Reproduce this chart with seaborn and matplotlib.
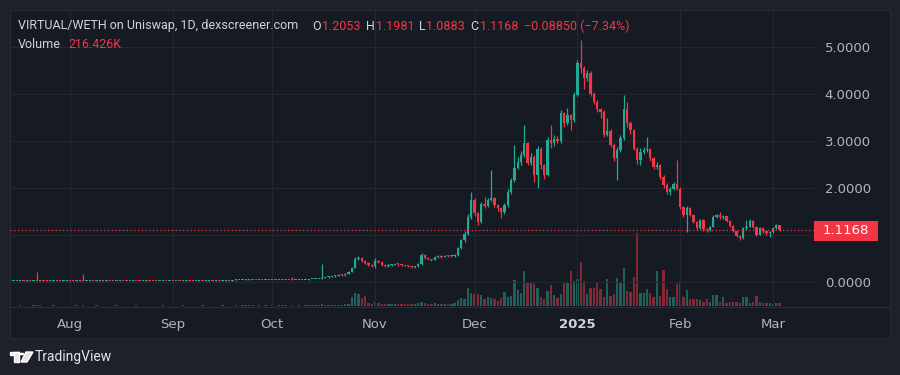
import numpy as np
import pandas as pd
import matplotlib
matplotlib.use("Agg")
import matplotlib.pyplot as plt
import matplotlib.dates as mdates
from matplotlib.patches import Rectangle, Polygon, Circle
from matplotlib.lines import Line2D
import seaborn as sns

start_date = "2024-07-15"
end_date = "2025-03-03"
first_open = 0.022

# daily closes, one row per month (Jul 15 .. Mar 3)
close = [
    0.024, 0.028, 0.030, 0.029, 0.031, 0.030, 0.032, 0.030, 0.031, 0.030, 0.029, 0.030, 0.031, 0.030, 0.029, 0.030, 0.031,
    0.030, 0.029, 0.031, 0.030, 0.028, 0.029, 0.030, 0.029, 0.030, 0.031, 0.029, 0.030, 0.029, 0.028, 0.029, 0.030, 0.029, 0.028, 0.029, 0.030, 0.029, 0.028, 0.029, 0.030, 0.029, 0.028, 0.027, 0.028, 0.029, 0.028, 0.029,
    0.028, 0.029, 0.028, 0.029, 0.030, 0.029, 0.028, 0.029, 0.030, 0.029, 0.030, 0.031, 0.030, 0.031, 0.030, 0.031, 0.032, 0.031, 0.032, 0.033, 0.034, 0.035, 0.045, 0.050, 0.048, 0.047, 0.048, 0.046, 0.047, 0.048,
    0.049, 0.047, 0.048, 0.050, 0.049, 0.048, 0.046, 0.047, 0.048, 0.049, 0.050, 0.055, 0.060, 0.065, 0.070, 0.090, 0.100, 0.110, 0.120, 0.130, 0.150, 0.140, 0.180, 0.220, 0.300, 0.500, 0.520, 0.440, 0.400, 0.360, 0.330,
    0.45, 0.42, 0.37, 0.33, 0.36, 0.37, 0.39, 0.38, 0.36, 0.35, 0.33, 0.31, 0.33, 0.38, 0.57, 0.52, 0.48, 0.47, 0.53, 0.55, 0.54, 0.56, 0.55, 0.56, 0.57, 0.72, 0.89, 1.03, 1.39, 1.74,
    1.46, 1.28, 1.67, 1.62, 1.75, 1.78, 1.64, 1.58, 1.48, 1.64, 1.92, 2.17, 2.42, 2.55, 2.70, 2.95, 2.53, 2.66, 2.27, 2.84, 2.49, 2.27, 3.02, 2.95, 3.05, 3.00, 3.59, 3.38, 3.55, 3.45, 3.98,
    4.65, 4.55, 4.33, 4.44, 4.01, 3.84, 3.69, 3.62, 3.13, 3.22, 2.91, 2.63, 2.80, 3.06, 3.69, 3.38, 3.23, 2.84, 2.59, 2.77, 2.80, 2.83, 2.63, 2.45, 2.50, 2.24, 2.06, 1.92, 1.98, 2.08, 1.98,
    1.60, 1.42, 1.58, 1.42, 1.28, 1.14, 1.32, 1.12, 1.10, 1.18, 1.39, 1.42, 1.38, 1.40, 1.30, 1.20, 1.08, 0.97, 0.93, 1.14, 1.18, 1.30, 1.17, 1.00, 1.14, 1.08, 1.04, 1.07,
    1.14, 1.2053, 1.1168,
]

high = [
    0.027, 0.031, 0.033, 0.032, 0.034, 0.033, 0.034, 0.210, 0.033, 0.033, 0.032, 0.033, 0.034, 0.033, 0.032, 0.033, 0.034,
    0.034, 0.032, 0.033, 0.033, 0.170, 0.031, 0.032, 0.031, 0.032, 0.033, 0.032, 0.032, 0.031, 0.031, 0.031, 0.032, 0.031, 0.030, 0.031, 0.032, 0.031, 0.030, 0.031, 0.032, 0.031, 0.030, 0.029, 0.030, 0.031, 0.030, 0.031,
    0.030, 0.031, 0.030, 0.031, 0.032, 0.031, 0.030, 0.031, 0.032, 0.031, 0.032, 0.033, 0.032, 0.033, 0.032, 0.033, 0.034, 0.033, 0.034, 0.035, 0.036, 0.037, 0.060, 0.055, 0.052, 0.050, 0.051, 0.049, 0.050, 0.051,
    0.052, 0.051, 0.051, 0.053, 0.052, 0.051, 0.110, 0.050, 0.051, 0.052, 0.053, 0.058, 0.063, 0.068, 0.074, 0.380, 0.110, 0.120, 0.130, 0.150, 0.170, 0.160, 0.200, 0.240, 0.320, 0.540, 0.550, 0.530, 0.460, 0.420, 0.380,
    0.52, 0.47, 0.43, 0.38, 0.38, 0.39, 0.41, 0.40, 0.39, 0.37, 0.36, 0.34, 0.35, 0.40, 0.62, 0.59, 0.53, 0.50, 0.55, 0.57, 0.57, 0.58, 0.58, 0.58, 0.60, 0.75, 0.92, 1.08, 1.45, 1.92,
    1.78, 1.50, 1.70, 1.80, 1.78, 2.38, 1.80, 1.66, 1.60, 1.68, 1.97, 2.22, 2.91, 2.65, 2.78, 3.34, 2.98, 2.75, 2.70, 2.90, 2.88, 2.52, 3.08, 3.34, 3.12, 3.10, 3.65, 3.62, 3.70, 3.58, 4.05,
    4.72, 5.15, 4.60, 4.52, 4.48, 4.05, 3.88, 3.70, 3.65, 3.50, 3.25, 2.95, 2.88, 3.12, 3.98, 3.84, 3.42, 3.25, 2.88, 2.85, 2.88, 3.09, 2.86, 2.66, 2.56, 2.52, 2.28, 2.10, 2.02, 2.12, 2.60,
    2.02, 1.62, 1.62, 1.60, 1.45, 1.30, 1.35, 1.33, 1.15, 1.20, 1.42, 1.45, 1.50, 1.43, 1.41, 1.32, 1.22, 1.10, 0.99, 1.16, 1.32, 1.33, 1.31, 1.19, 1.16, 1.16, 1.10, 1.09,
    1.16, 1.24, 1.1981,
]

low = [
    0.020, 0.023, 0.027, 0.027, 0.028, 0.028, 0.029, 0.028, 0.029, 0.028, 0.027, 0.028, 0.029, 0.028, 0.027, 0.028, 0.029,
    0.028, 0.027, 0.028, 0.028, 0.026, 0.027, 0.028, 0.027, 0.028, 0.029, 0.027, 0.028, 0.027, 0.026, 0.027, 0.028, 0.027, 0.026, 0.027, 0.028, 0.027, 0.026, 0.027, 0.028, 0.027, 0.026, 0.025, 0.026, 0.027, 0.026, 0.027,
    0.026, 0.027, 0.026, 0.027, 0.028, 0.027, 0.026, 0.027, 0.028, 0.027, 0.028, 0.029, 0.028, 0.029, 0.028, 0.029, 0.030, 0.029, 0.030, 0.031, 0.032, 0.033, 0.034, 0.043, 0.045, 0.044, 0.045, 0.043, 0.044, 0.045,
    0.046, 0.045, 0.045, 0.047, 0.046, 0.045, 0.044, 0.045, 0.046, 0.047, 0.048, 0.050, 0.054, 0.059, 0.063, 0.068, 0.085, 0.095, 0.105, 0.115, 0.125, 0.130, 0.135, 0.170, 0.210, 0.290, 0.470, 0.420, 0.380, 0.340, 0.310,
    0.30, 0.40, 0.35, 0.31, 0.32, 0.34, 0.36, 0.35, 0.34, 0.33, 0.31, 0.29, 0.30, 0.32, 0.37, 0.50, 0.46, 0.45, 0.46, 0.52, 0.52, 0.53, 0.53, 0.54, 0.54, 0.55, 0.70, 0.86, 1.00, 1.35,
    1.40, 1.21, 1.25, 1.58, 1.60, 1.72, 1.60, 1.52, 1.36, 1.45, 1.60, 1.88, 2.12, 2.40, 2.50, 2.66, 2.48, 2.50, 2.13, 2.00, 2.40, 2.20, 2.25, 2.85, 2.90, 2.95, 2.96, 3.30, 3.35, 3.23, 3.40,
    3.95, 4.45, 4.10, 4.28, 3.95, 3.78, 3.62, 3.50, 3.08, 3.10, 2.88, 2.58, 2.17, 2.76, 3.02, 3.30, 3.15, 2.80, 2.52, 2.48, 2.72, 2.76, 2.58, 2.40, 2.40, 2.20, 2.00, 1.88, 1.86, 1.95, 1.95,
    1.56, 1.38, 1.07, 1.40, 1.25, 1.10, 1.12, 1.08, 1.06, 1.09, 1.16, 1.36, 1.34, 1.35, 1.28, 1.18, 1.06, 0.95, 0.90, 0.92, 1.10, 1.16, 1.15, 0.98, 0.99, 1.05, 1.01, 0.96,
    1.05, 1.12, 1.0883,
]

# volume in thousands
volume = [
    30, 40, 50, 40, 30, 40, 50, 90, 50, 40, 30, 40, 50, 40, 30, 40, 40,
    40, 30, 50, 40, 100, 40, 30, 40, 50, 40, 30, 40, 30, 40, 50, 40, 30, 40, 30, 40, 50, 40, 30, 40, 30, 40, 30, 40, 50, 40, 30,
    40, 30, 40, 50, 40, 30, 40, 30, 40, 50, 40, 30, 40, 30, 40, 50, 40, 30, 40, 50, 40, 50, 80, 70, 50, 40, 50, 40, 50, 40,
    50, 40, 50, 60, 50, 40, 80, 40, 50, 40, 50, 60, 70, 60, 70, 150, 90, 100, 90, 110, 120, 100, 140, 180, 720, 1040, 960, 640, 800, 240, 200,
    320, 220, 200, 180, 200, 160, 180, 200, 160, 180, 200, 160, 180, 240, 320, 240, 200, 180, 240, 200, 180, 200, 160, 200, 240, 480, 640, 560, 1440, 1040,
    960, 960, 880, 560, 720, 640, 560, 400, 640, 1120, 720, 800, 2080, 1280, 1040, 2800, 1840, 1840, 1760, 1440, 720, 560, 1200, 1680, 880, 640, 960, 1840, 1920, 2800, 2000,
    2160, 3520, 2000, 960, 1440, 1440, 1840, 1360, 720, 2160, 800, 960, 2240, 1920, 3040, 1200, 1120, 2320, 5840, 1040, 1040, 1360, 1040, 720, 2800, 800, 2880, 1360, 720, 720, 1760,
    2000, 720, 1280, 560, 560, 560, 480, 320, 560, 320, 880, 880, 320, 720, 240, 320, 320, 320, 240, 720, 720, 240, 320, 800, 320, 240, 240, 240,
    160, 240, 216.426,
]

month_ticks = ["2024-08-01", "2024-09-01", "2024-10-01", "2024-11-01", "2024-12-01", "2025-01-01", "2025-02-01", "2025-03-01"]
month_labels = ["Aug", "Sep", "Oct", "Nov", "Dec", "2025", "Feb", "Mar"]
price_ticks = [0, 1, 2, 3, 4, 5]

W, H = 900, 375
def fx(px):
    return px / W
def fy(py):
    return 1 - py / H

bg_outer = "#1e212a"
bg_panel = "#161a23"
grid_col = "#232732"
text_col = "#b2b5be"
up_col = "#22ab94"
down_col = "#f23645"

sns.set_theme(style="dark", rc={
    "figure.facecolor": bg_outer,
    "axes.facecolor": bg_panel,
    "text.color": text_col,
    "xtick.color": text_col,
    "ytick.color": text_col,
})
plt.rcParams["font.family"] = ["DejaVu Sans"]
ui_font = ["Roboto", "DejaVu Sans"]

dates = pd.date_range(start_date, end_date, freq="D")
x = mdates.date2num(dates)
c = np.array(close)
o = np.array([first_open] + close[:-1])
hi = np.array(high)
lo = np.array(low)
v = np.array(volume)
colors = np.where(c >= o, up_col, down_col)

px_per_unit = 47  # pixels per 1.0 of price
fig = plt.figure(figsize=(9, 3.75), dpi=100)
fig.patches.append(Rectangle((fx(10), fy(338)), fx(880), 328 / H, transform=fig.transFigure,
                             facecolor=bg_panel, edgecolor="#262a35", lw=0.8, zorder=-1))

pos = [fx(10), fy(307), fx(805), 297 / H]
ax_v = fig.add_axes(pos)
ax = fig.add_axes(pos, sharex=ax_v)
ax.set_zorder(2)
ax.patch.set_visible(False)
ax_v.patch.set_visible(False)
ax_v.axis("off")

# volume overlay
ax_v.bar(x, v, width=0.7, color=colors, alpha=0.5, linewidth=0)
ax_v.set_ylim(-80, 296 * 80)

# candles
ax.vlines(x, lo, hi, colors=colors, linewidth=0.9, zorder=3)
body_bottom = np.minimum(o, c)
body_h = np.maximum(np.abs(c - o), 1 / px_per_unit)
ax.bar(x, body_h, bottom=body_bottom, width=0.7, color=colors, linewidth=0, zorder=4)

ax.axhline(c[-1], color=down_col, lw=0.9, linestyle=(0, (1, 2)), zorder=5)

ax.set_ylim((282 - 307) / px_per_unit, (282 - 10) / px_per_unit)
left = pd.Timestamp("2024-08-01") - pd.Timedelta(days=60 / 3.316)
right = pd.Timestamp("2025-03-01") + pd.Timedelta(days=42 / 3.316)
ax.set_xlim(mdates.date2num(left), mdates.date2num(right))

ax.set_xticks(mdates.date2num(pd.to_datetime(month_ticks)))
ax.set_xticklabels(month_labels, fontsize=9.5)
for lab in ax.get_xticklabels():
    if lab.get_text() == "2025":
        lab.set_fontweight("bold")
        lab.set_color("#d1d4dc")
ax.tick_params(axis="x", length=0, pad=8)

ax.yaxis.tick_right()
ax.set_yticks(price_ticks)
ax.set_yticklabels(["" if t == 1 else f"{t:.4f}" for t in price_ticks], fontsize=9.5)
ax.tick_params(axis="y", length=0, pad=7)
ax.grid(True, color=grid_col, linewidth=0.8)
for s in ax.spines.values():
    s.set_visible(False)

fig.add_artist(Line2D([fx(10), fx(890)], [fy(307), fy(307)], transform=fig.transFigure,
                      color="#2a2e39", lw=0.8))

# last price tag
fig.patches.append(Rectangle((fx(814), fy(241)), fx(64), 20 / H, transform=fig.transFigure,
                             facecolor=down_col, edgecolor="none", zorder=5))
fig.text(fx(846), fy(231), f"{c[-1]:.4f}", color="white", ha="center", va="center", fontsize=9.5, zorder=6)

# legend line
chg = c[-1] - o[-1]
pct = chg / o[-1] * 100
light = "#d1d4dc"
pieces = [
    ("VIRTUAL/WETH on Uniswap, 1D, dexscreener.com", 18, light),
    ("O", 312, light), (f"{o[-1]:.4f}", 322, down_col),
    ("H", 366, light), (f"{hi[-1]:.4f}", 376, down_col),
    ("L", 419, light), (f"{lo[-1]:.4f}", 426, down_col),
    ("C", 470, light), (f"{c[-1]:.4f}", 480, down_col),
    (f"\u2212{abs(chg):.5f} (\u2212{abs(pct):.2f}%)", 524, down_col),
]
for txt, px0, col in pieces:
    fig.text(fx(px0), fy(26), txt, color=col, fontsize=9, family=ui_font, ha="left", va="center", zorder=6)
fig.text(fx(18), fy(44), "Volume", color=light, fontsize=9, family=ui_font, ha="left", va="center", zorder=6)
fig.text(fx(68), fy(44), f"{v[-1]:.3f}K", color=down_col, fontsize=9, family=ui_font, ha="left", va="center", zorder=6)

# TradingView logo
logo = "#e6e6e6"
fig.patches.append(Rectangle((fx(10), fy(355)), fx(9), 3 / H, transform=fig.transFigure, facecolor=logo, zorder=6))
fig.patches.append(Rectangle((fx(14), fy(362)), fx(5), 10 / H, transform=fig.transFigure, facecolor=logo, zorder=6))
fig.patches.append(Circle((fx(22), fy(354)), 1.6 / W, transform=fig.transFigure, facecolor=logo, zorder=6))
fig.patches.append(Polygon([(fx(26), fy(352)), (fx(33), fy(352)), (fx(27), fy(362)), (fx(21), fy(362))],
                           closed=True, transform=fig.transFigure, facecolor=logo, zorder=6))
fig.text(fx(35), fy(357), "TradingView", color=logo, fontsize=10, family=ui_font,
         ha="left", va="center", zorder=6)

fig.savefig("out.png", dpi=100, facecolor=bg_outer)
